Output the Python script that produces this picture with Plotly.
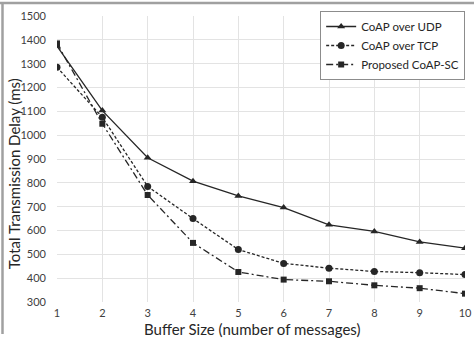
import plotly.graph_objects as go

# Buffer size (number of messages)
buffer_size = [1, 2, 3, 4, 5, 6, 7, 8, 9, 10]

# Total transmission delay (ms) per protocol
coap_udp = [1374, 1103, 905, 807, 745, 696, 624, 596, 552, 526]
coap_tcp = [1285, 1075, 785, 650, 520, 462, 442, 428, 423, 415]
coap_sc = [1385, 1048, 749, 548, 426, 394, 387, 370, 358, 335]

y_ticks = list(range(300, 1501, 100))
x_ticks = buffer_size

font_family = "Lato, 'Open Sans', sans-serif"
line_color = "#262626"

PLOT_W = 408.0
PLOT_H = 285.7

fig = go.Figure()

fig.add_trace(go.Scatter(
    x=buffer_size, y=coap_udp, name="CoAP over UDP", mode="lines+markers",
    line=dict(color=line_color, width=1.3, dash="solid"),
    marker=dict(symbol="triangle-up", size=7, color=line_color),
))
fig.add_trace(go.Scatter(
    x=buffer_size, y=coap_tcp, name="CoAP over TCP", mode="lines+markers",
    line=dict(color=line_color, width=1.3, dash="3px,2px"),
    marker=dict(symbol="circle", size=7, color=line_color),
))
fig.add_trace(go.Scatter(
    x=buffer_size, y=coap_sc, name="Proposed CoAP-SC", mode="lines+markers",
    line=dict(color=line_color, width=1.3, dash="7px,3px,2px,3px"),
    marker=dict(symbol="square", size=6, color=line_color),
))

fig.update_layout(
    width=474, height=338,
    margin=dict(l=57, r=9, t=16, b=36, autoexpand=False),
    paper_bgcolor="white", plot_bgcolor="white",
    font=dict(family=font_family, size=11, color="#404040"),
    legend=dict(
        x=0.645, y=1.0175, xanchor="left", yanchor="top",
        bgcolor="white", bordercolor="#8c8c8c", borderwidth=1,
        font=dict(size=11.5, color="#262626"),
        itemwidth=30, tracegroupgap=0,
    ),
    showlegend=True,
)

fig.update_xaxes(
    range=[1, 10], tickvals=x_ticks, ticktext=[str(v) for v in x_ticks],
    showgrid=True, gridcolor="#e3e3e3", gridwidth=1,
    zeroline=False, showline=False, ticks="", automargin=False,
    ticklabelstandoff=3,
    tickfont=dict(size=11, color="#404040"),
)
fig.update_yaxes(
    range=[300, 1500], tickvals=y_ticks,
    showgrid=True, gridcolor="#e3e3e3", gridwidth=1,
    zeroline=False, showline=False, ticks="", automargin=False,
    ticklabelstandoff=10,
    tickfont=dict(size=11, color="#404040"),
)

# Axis titles
fig.add_annotation(
    text="Buffer Size (number of messages)", xref="paper", yref="paper",
    x=(252 - 57) / PLOT_W, y=-(328.5 - 301.7) / PLOT_H,
    xanchor="center", yanchor="middle", showarrow=False, borderpad=0,
    font=dict(size=15, color="#262626"),
)
fig.add_annotation(
    text="Total Transmission Delay (ms)", xref="paper", yref="paper",
    x=-(57 - 14) / PLOT_W, y=(301.7 - 174) / PLOT_H,
    xanchor="center", yanchor="middle", showarrow=False, textangle=-90,
    borderpad=0,
    font=dict(size=15, color="#262626"),
)

# Frame lines along the top and left edges of the figure
fig.add_shape(type="line", xref="paper", yref="paper",
              x0=-57 / PLOT_W, x1=1 + 9 / PLOT_W, y0=1 + 13 / PLOT_H, y1=1 + 13 / PLOT_H,
              line=dict(color="#a0a0a0", width=2.5))
fig.add_shape(type="line", xref="paper", yref="paper",
              x0=-54.5 / PLOT_W, x1=-54.5 / PLOT_W, y0=-32 / PLOT_H, y1=1 + 13 / PLOT_H,
              line=dict(color="#a0a0a0", width=2.5))

fig.write_html("out.html")
